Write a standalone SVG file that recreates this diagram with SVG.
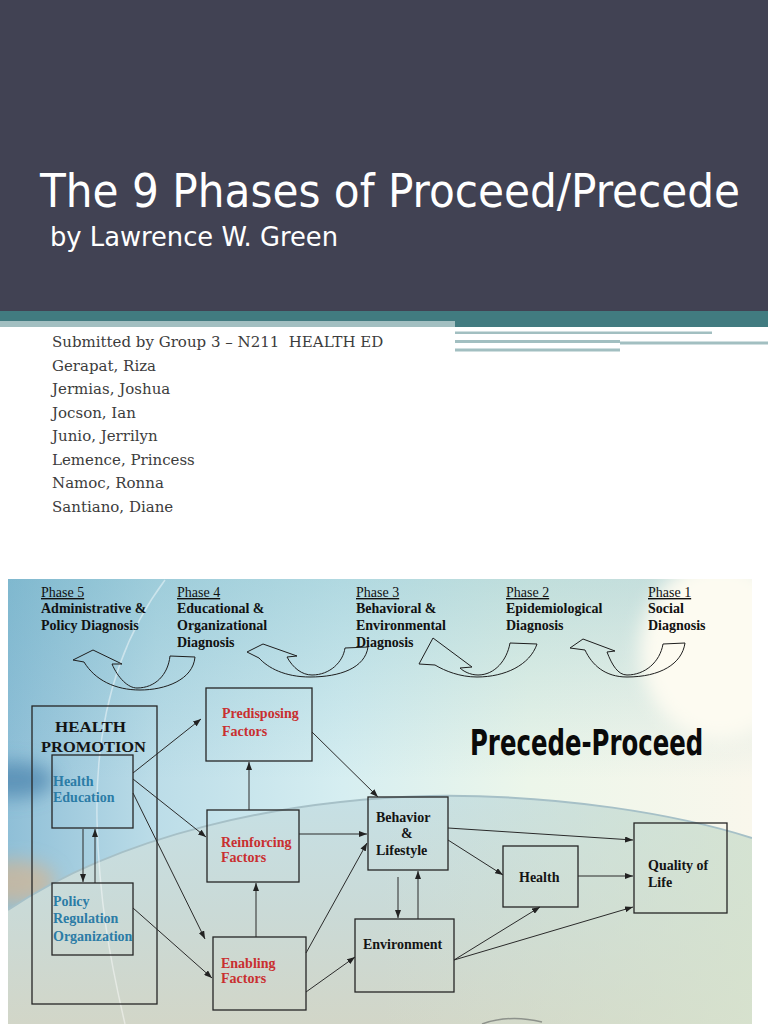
<svg xmlns="http://www.w3.org/2000/svg" width="768" height="1024" viewBox="0 0 768 1024">
<style>
.box{fill:none;stroke:#262626;stroke-width:1.3}
.lbl{font-family:"Liberation Serif","Times New Roman",serif;font-weight:bold;font-size:14px}
.red{fill:#c92f30}
.blue{fill:#2b7ca6}
.blk{fill:#141414}
.conn{stroke:#2a2a2a;stroke-width:1;fill:none;marker-end:url(#ah)}
.ph{font-family:"Liberation Serif","Times New Roman",serif;font-size:14px;fill:#111;font-weight:bold}
.phu{font-weight:normal;text-decoration:underline}
.curv{fill:none;stroke:#1e1e1e;stroke-width:1}
.name{font-family:"DejaVu Serif","Liberation Serif",serif;font-size:15px;fill:#3c3c3c}
</style>
<defs>
<linearGradient id="skyH" x1="0" y1="0" x2="1" y2="0">
<stop offset="0" stop-color="#8fbfd7"/>
<stop offset="0.2" stop-color="#bcdde8"/>
<stop offset="0.45" stop-color="#d6eef1"/>
<stop offset="0.7" stop-color="#ecf6ea"/>
<stop offset="1" stop-color="#f9f7ec"/>
</linearGradient>
<linearGradient id="skyV" x1="0" y1="0" x2="0" y2="1">
<stop offset="0" stop-color="#5aa7bb" stop-opacity="0.3"/>
<stop offset="0.45" stop-color="#5aa7bb" stop-opacity="0"/>
</linearGradient>
<linearGradient id="ground" x1="0" y1="0" x2="0" y2="1">
<stop offset="0" stop-color="#c6e0e5"/>
<stop offset="0.5" stop-color="#cadad7"/>
<stop offset="1" stop-color="#d2d6c8"/>
</linearGradient>
<linearGradient id="groundH" x1="0" y1="0" x2="1" y2="0">
<stop offset="0.5" stop-color="#d8e4cf" stop-opacity="0"/>
<stop offset="1" stop-color="#d8e4cf" stop-opacity="0.8"/>
</linearGradient>
<filter id="blur" x="-1" y="-1" width="3" height="3"><feGaussianBlur stdDeviation="9"/></filter>
<clipPath id="imgclip"><rect x="8" y="579" width="744" height="445"/></clipPath>
<marker id="ah" markerWidth="8" markerHeight="6" refX="8" refY="3" orient="auto" markerUnits="userSpaceOnUse"><path d="M0,0 L8,3 L0,6 z" fill="#222"/></marker>
</defs>

<g id="header">
<rect x="0" y="0" width="768" height="312" fill="#414253"/>
<rect x="0" y="311" width="768" height="10" fill="#417b80"/>
<rect x="0" y="321" width="455" height="6" fill="#a2bfc1"/>
<rect x="455" y="321" width="313" height="6" fill="#417b80"/>
<rect x="455" y="331.5" width="257" height="2.5" fill="#a2bfc1"/>
<rect x="455" y="340" width="165" height="3" fill="#a2bfc1"/>
<rect x="620" y="341.5" width="148" height="3" fill="#a2bfc1"/>
<rect x="455" y="348.5" width="165" height="3" fill="#a2bfc1"/>
<text x="40" y="207" font-family="DejaVu Sans Condensed,DejaVu Sans,sans-serif" font-size="47" fill="#ffffff" textLength="700" lengthAdjust="spacingAndGlyphs">The 9 Phases of Proceed/Precede</text>
<text x="50" y="246" font-family="DejaVu Sans Condensed,DejaVu Sans,sans-serif" font-size="27" fill="#ffffff" textLength="288" lengthAdjust="spacingAndGlyphs">by Lawrence W. Green</text>
</g>

<g id="names">
<text class="name" x="52" y="347">Submitted by Group 3 – N211&#160; HEALTH ED</text>
<text class="name" x="52" y="370.5">Gerapat, Riza</text>
<text class="name" x="52" y="394">Jermias, Joshua</text>
<text class="name" x="52" y="417.5">Jocson, Ian</text>
<text class="name" x="52" y="441">Junio, Jerrilyn</text>
<text class="name" x="52" y="464.5">Lemence, Princess</text>
<text class="name" x="52" y="488">Namoc, Ronna</text>
<text class="name" x="52" y="511.5">Santiano, Diane</text>
</g>

<g id="diagram-bg" clip-path="url(#imgclip)">
<rect x="8" y="579" width="744" height="445" fill="url(#skyH)"/>
<rect x="8" y="579" width="744" height="445" fill="url(#skyV)"/>
<ellipse cx="14" cy="780" rx="40" ry="18" fill="#4a82ad" fill-opacity="0.7" filter="url(#blur)"/>
<ellipse cx="14" cy="882" rx="42" ry="22" fill="#dcb48c" fill-opacity="0.65" filter="url(#blur)"/>
<ellipse cx="720" cy="650" rx="80" ry="90" fill="#fdfbf1" filter="url(#blur)"/>
<path d="M8,910 C120,835 280,800 430,796 C560,794 680,815 752,838 L752,1024 L8,1024 Z" fill="url(#ground)"/>
<path d="M8,910 C120,835 280,800 430,796 C560,794 680,815 752,838 L752,1024 L8,1024 Z" fill="url(#groundH)"/>
<path d="M8,910 C120,835 280,800 430,796 C560,794 680,815 752,838" fill="none" stroke="#a6c0c7" stroke-width="2"/>
<path d="M165,580 C120,640 95,720 97,820 C99,900 110,960 125,1024" fill="none" stroke="#ffffff" stroke-opacity="0.45" stroke-width="1.5"/>
<path d="M482,1024 Q510,1014 542,1022" fill="none" stroke="#6f7470" stroke-width="1.5" stroke-opacity="0.7"/>
</g>

<g id="phase-labels">
<text class="ph" x="41" y="597"><tspan class="phu">Phase 5</tspan><tspan x="41" y="613">Administrative &amp;</tspan><tspan x="41" y="630">Policy Diagnosis</tspan></text>
<text class="ph" x="177" y="597"><tspan class="phu">Phase 4</tspan><tspan x="177" y="613">Educational &amp;</tspan><tspan x="177" y="630">Organizational</tspan><tspan x="177" y="647">Diagnosis</tspan></text>
<text class="ph" x="356" y="597"><tspan class="phu">Phase 3</tspan><tspan x="356" y="613">Behavioral &amp;</tspan><tspan x="356" y="630">Environmental</tspan><tspan x="356" y="647">Diagnosis</tspan></text>
<text class="ph" x="506" y="597"><tspan class="phu">Phase 2</tspan><tspan x="506" y="613">Epidemiological</tspan><tspan x="506" y="630">Diagnosis</tspan></text>
<text class="ph" x="648" y="597"><tspan class="phu">Phase 1</tspan><tspan x="648" y="613">Social</tspan><tspan x="648" y="630">Diagnosis</tspan></text>
</g>

<g id="curved-arrows">
<path class="curv" d="M170,656 L195,657 C193,680 165,690 140,690 C115,690 95,680 84,662 L73,660 L93,650 L122,664 L112,664 C118,678 128,688 137,688 C155,688 168,675 170,656 Z"/>
<path class="curv" d="M345,648 L368,647 C365,668 340,677 310,677 C285,677 268,668 259,658 L247,652 L263,644 L297,656 L287,657 C293,668 302,675 312,675 C330,675 343,662 345,648 Z"/>
<path class="curv" d="M433,638 L419,664 L435,665 C445,671 460,677 477,677 C505,677 530,665 537,644 L510,643 C507,660 495,675 478,675 C470,675 463,671 460,668 L472,667 Z"/>
<path class="curv" d="M663,644 L685,643 C682,664 660,677 627,677 C605,677 592,665 585,650 L570,648 L583,639 L615,651 L607,652 C612,665 618,675 627,675 C645,675 660,662 663,644 Z"/>
</g>

<text id="title-precede" transform="translate(470,755) scale(0.775,1)" x="0" y="0" font-family="DejaVu Sans Condensed,DejaVu Sans,sans-serif" font-weight="bold" font-size="35" fill="#0a0a0a">Precede-Proceed</text>

<g id="health-promotion">
<rect class="box" x="32" y="706" width="125" height="298"/>
<text class="lbl blk" x="55" y="732" font-size="17" textLength="71" lengthAdjust="spacingAndGlyphs">HEALTH</text>
<text class="lbl blk" x="41" y="752" font-size="17" textLength="105" lengthAdjust="spacingAndGlyphs">PROMOTION</text>
</g>
<g id="health-education">
<rect class="box" x="52" y="755" width="81" height="73"/>
<text class="lbl blue" x="53" y="786">Health</text>
<text class="lbl blue" x="53" y="802">Education</text>
</g>
<g id="policy">
<rect class="box" x="52" y="883" width="81" height="72"/>
<text class="lbl blue" x="53" y="906">Policy</text>
<text class="lbl blue" x="53" y="923">Regulation</text>
<text class="lbl blue" x="53" y="941">Organization</text>
</g>
<g id="predisposing">
<rect class="box" x="206" y="688" width="106" height="73"/>
<text class="lbl red" x="222" y="718">Predisposing</text>
<text class="lbl red" x="222" y="736">Factors</text>
</g>
<g id="reinforcing">
<rect class="box" x="207" y="810" width="92" height="72"/>
<text class="lbl red" x="221" y="847">Reinforcing</text>
<text class="lbl red" x="221" y="862">Factors</text>
</g>
<g id="enabling">
<rect class="box" x="213" y="937" width="93" height="73"/>
<text class="lbl red" x="221" y="968">Enabling</text>
<text class="lbl red" x="221" y="983">Factors</text>
</g>
<g id="behavior">
<rect class="box" x="368" y="797" width="80" height="73"/>
<text class="lbl blk" x="376" y="822">Behavior</text>
<text class="lbl blk" x="401" y="838">&amp;</text>
<text class="lbl blk" x="376" y="855">Lifestyle</text>
</g>
<g id="environment">
<rect class="box" x="355" y="919" width="99" height="73"/>
<text class="lbl blk" x="363" y="949">Environment</text>
</g>
<g id="health">
<rect class="box" x="503" y="846" width="75" height="61"/>
<text class="lbl blk" x="519" y="882">Health</text>
</g>
<g id="quality-of-life">
<rect class="box" x="634" y="823" width="93" height="90"/>
<text class="lbl blk" x="648" y="870">Quality of</text>
<text class="lbl blk" x="648" y="887">Life</text>
</g>

<g id="connectors">
<line class="conn" x1="133" y1="773" x2="201" y2="719"/>
<line class="conn" x1="133" y1="779" x2="206" y2="837"/>
<line class="conn" x1="133" y1="793" x2="205" y2="939"/>
<line class="conn" x1="133" y1="908" x2="212" y2="978"/>
<line class="conn" x1="83" y1="829" x2="83" y2="882"/>
<line class="conn" x1="95" y1="883" x2="95" y2="829"/>
<line class="conn" x1="249" y1="810" x2="249" y2="762"/>
<line class="conn" x1="256" y1="937" x2="256" y2="883"/>
<line class="conn" x1="312" y1="732" x2="378" y2="797"/>
<line class="conn" x1="299" y1="834" x2="367" y2="834"/>
<line class="conn" x1="306" y1="953" x2="367" y2="843"/>
<line class="conn" x1="306" y1="992" x2="355" y2="957"/>
<line class="conn" x1="398" y1="877" x2="398" y2="918"/>
<line class="conn" x1="418" y1="919" x2="418" y2="871"/>
<line class="conn" x1="448" y1="828" x2="633" y2="840"/>
<line class="conn" x1="448" y1="840" x2="503" y2="875"/>
<line class="conn" x1="578" y1="876" x2="633" y2="876"/>
<line class="conn" x1="454" y1="960" x2="540" y2="907"/>
<line class="conn" x1="454" y1="960" x2="633" y2="907"/>
</g>
</svg>
